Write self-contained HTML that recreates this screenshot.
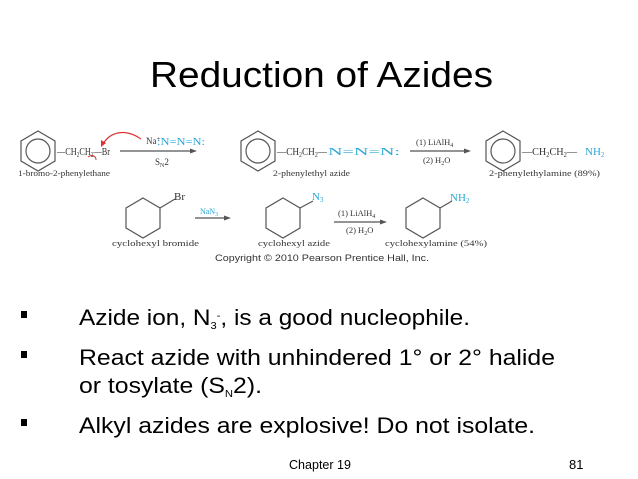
<!DOCTYPE html>
<html><head><meta charset="utf-8"><style>body{margin:0;background:#fff}svg{display:block}</style></head><body>
<svg width="638" height="479" viewBox="0 0 638 479" xmlns="http://www.w3.org/2000/svg" font-family="Liberation Sans, sans-serif">
<text x="150" y="87" font-size="36" textLength="343" lengthAdjust="spacingAndGlyphs">Reduction of Azides</text>
<g fill="none" stroke="#555" stroke-width="1.2">
<polygon points="38,131 55,141 55,161 38,171 21,161 21,141"/><circle cx="38" cy="151" r="12"/>
<polygon points="258,131 275,141 275,161 258,171 241,161 241,141"/><circle cx="258" cy="151" r="12"/>
<polygon points="503,131 520,141 520,161 503,171 486,161 486,141"/><circle cx="503" cy="151" r="12"/>
<polygon points="143,198 160,208 160,228 143,238 126,228 126,208"/><line x1="160" y1="208" x2="175" y2="199"/>
<polygon points="283,198 300,208 300,228 283,238 266,228 266,208"/><line x1="300" y1="208" x2="313" y2="201"/>
<polygon points="423,198 440,208 440,228 423,238 406,228 406,208"/><line x1="440" y1="208" x2="452" y2="201"/>
<line x1="120" y1="151" x2="194" y2="151"/><line x1="410" y1="151" x2="468" y2="151"/>
<line x1="195" y1="218" x2="228" y2="218"/><line x1="334" y1="222" x2="384" y2="222"/>
</g>
<g fill="#555"><polygon points="197,151 190,148.5 190,153.5"/><polygon points="471,151 464,148.5 464,153.5"/><polygon points="231,218 224,215.5 224,220.5"/><polygon points="387,222 380,219.5 380,224.5"/></g>
<path d="M141,139 C125,128 110,132 103,144" fill="none" stroke="#d33" stroke-width="1.2"/>
<polygon points="101,147 101,140 106,143" fill="#d33"/>
<path d="M88,157 C92,154 96,156 96,160" fill="none" stroke="#d33" stroke-width="1"/>
<g font-family="Liberation Serif, serif" font-size="11" fill="#333">
<text x="57" y="155" textLength="53" lengthAdjust="spacingAndGlyphs">—CH<tspan font-size="7" dy="2">2</tspan><tspan dy="-2">CH</tspan><tspan font-size="7" dy="2">2</tspan><tspan dy="-2">—Br</tspan></text>
<text x="146" y="144" font-size="9">Na<tspan font-size="7" dy="-3">+</tspan></text>
<text x="155" y="165" font-size="9">S<tspan font-size="6" dy="2">N</tspan><tspan dy="-2">2</tspan></text>
<text x="18" y="176" font-size="8.5" textLength="92" lengthAdjust="spacingAndGlyphs">1-bromo-2-phenylethane</text>
<text x="277" y="155" textLength="50" lengthAdjust="spacingAndGlyphs">—CH<tspan font-size="7" dy="2">2</tspan><tspan dy="-2">CH</tspan><tspan font-size="7" dy="2">2</tspan><tspan dy="-2">—</tspan></text>
<text x="416" y="145" font-size="8.5">(1) LiAlH<tspan font-size="6" dy="2">4</tspan></text>
<text x="423" y="163" font-size="8.5">(2) H<tspan font-size="6" dy="2">2</tspan><tspan dy="-2">O</tspan></text>
<text x="273" y="176" font-size="8.5" textLength="77" lengthAdjust="spacingAndGlyphs">2-phenylethyl azide</text>
<text x="522" y="155" textLength="55" lengthAdjust="spacingAndGlyphs">—CH<tspan font-size="7" dy="2">2</tspan><tspan dy="-2">CH</tspan><tspan font-size="7" dy="2">2</tspan><tspan dy="-2">—</tspan></text>
<text x="489" y="176" font-size="8.5" textLength="111" lengthAdjust="spacingAndGlyphs">2-phenylethylamine (89%)</text>
<text x="174" y="200">Br</text>
<text x="112" y="246" font-size="8.5" textLength="87" lengthAdjust="spacingAndGlyphs">cyclohexyl bromide</text>
<text x="338" y="216" font-size="8.5">(1) LiAlH<tspan font-size="6" dy="2">4</tspan></text>
<text x="346" y="233" font-size="8.5">(2) H<tspan font-size="6" dy="2">2</tspan><tspan dy="-2">O</tspan></text>
<text x="258" y="246" font-size="8.5" textLength="72" lengthAdjust="spacingAndGlyphs">cyclohexyl azide</text>
<text x="385" y="246" font-size="8.5" textLength="102" lengthAdjust="spacingAndGlyphs">cyclohexylamine (54%)</text>
</g>
<g font-family="Liberation Serif, serif" font-size="11" fill="#2aa6d6">
<text x="157" y="145" textLength="48" lengthAdjust="spacingAndGlyphs">:N=N=N:</text>
<text x="328" y="155" textLength="72" lengthAdjust="spacingAndGlyphs">N=N=N:</text>
<text x="585" y="155">NH<tspan font-size="7" dy="2">2</tspan></text>
<text x="200" y="214" font-size="8">NaN<tspan font-size="6" dy="2">3</tspan></text>
<text x="312" y="200">N<tspan font-size="7" dy="2">3</tspan></text>
<text x="450" y="201">NH<tspan font-size="7" dy="2">2</tspan></text>
</g>
<text x="215" y="261" font-size="9.5" fill="#333" textLength="214" lengthAdjust="spacingAndGlyphs">Copyright © 2010 Pearson Prentice Hall, Inc.</text>
<g font-size="22" fill="#000">
<rect x="21" y="311" width="6" height="7"/><rect x="21" y="351" width="6" height="7"/><rect x="21" y="419" width="6" height="7"/>
<text x="79" y="325" textLength="391" lengthAdjust="spacingAndGlyphs">Azide ion, N<tspan font-size="10" dy="4">3</tspan><tspan font-size="10" dy="-10">-</tspan><tspan dy="6">, is a good nucleophile.</tspan></text>
<text x="79" y="365" textLength="476" lengthAdjust="spacingAndGlyphs">React azide with unhindered 1° or 2° halide</text>
<text x="79" y="393" textLength="183" lengthAdjust="spacingAndGlyphs">or tosylate (S<tspan font-size="10" dy="4">N</tspan><tspan dy="-4">2).</tspan></text>
<text x="79" y="433" textLength="456" lengthAdjust="spacingAndGlyphs">Alkyl azides are explosive! Do not isolate.</text>
</g>
<text x="289" y="469" font-size="13" textLength="62" lengthAdjust="spacingAndGlyphs">Chapter 19</text>
<text x="569" y="469" font-size="13">81</text>
</svg>
</body></html>
